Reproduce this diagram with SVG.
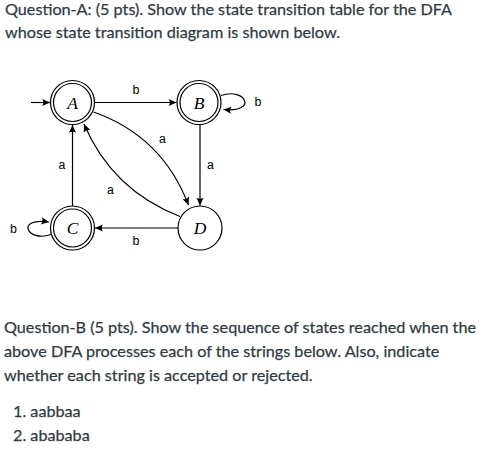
<svg xmlns="http://www.w3.org/2000/svg" width="483" height="470" viewBox="0 0 483 470">
<style>
.t{font-family:Lato,"Noto Sans",sans-serif;font-size:16.2px;fill:#2d3b45;stroke:#2d3b45;stroke-width:0.25}
.n{fill:none;stroke:#000;stroke-width:1.2}
.nl{font-family:"Liberation Serif","DejaVu Serif",serif;font-style:italic;font-size:17.5px;fill:#000;text-anchor:middle}
.e{fill:none;stroke:#000;stroke-width:1.2;marker-end:url(#ah)}
.el{font-family:"Liberation Mono","DejaVu Sans Mono",monospace;font-size:12.5px;fill:#000;text-anchor:middle}
</style>
<defs>
<marker id="ah" markerUnits="userSpaceOnUse" markerWidth="10" markerHeight="10" viewBox="-8 -4 9 8" refX="0" refY="0" orient="auto">
<path d="M0,0 L-7,-3.2 Q-5,0 -7,3.2 Z" fill="#000"/>
</marker>
</defs>
<rect width="483" height="470" fill="#fff"/>
<g id="questionA">
<text class="t" x="5" y="15">Question-A: (5 pts). Show the state transition table for the DFA</text>
<text class="t" x="5" y="38">whose state transition diagram is shown below.</text>
</g>
<g id="connectors">
<path class="e" d="M31,102.5 L50,102.5"/>
<path class="e" d="M94.5,102.5 L176.5,102.5"/>
<path class="e" d="M221,95.5 C246,87 258,113 223.5,109.5"/>
<path class="e" d="M200,124.5 L200,205.5"/>
<path class="e" d="M93.5,112 Q162,136 188.5,205"/>
<path class="e" d="M180,216.5 Q112,190 84,124"/>
<path class="e" d="M72.5,206 L72.5,125"/>
<path class="e" d="M178,228 L95,228"/>
<path class="e" d="M51,234.5 C27,243 15,217 49,222"/>
<text class="el" x="136" y="94">b</text>
<text class="el" x="258" y="106">b</text>
<text class="el" x="210.5" y="169">a</text>
<text class="el" x="162.5" y="142.5">a</text>
<text class="el" x="110.5" y="193.5">a</text>
<text class="el" x="62" y="169">a</text>
<text class="el" x="136" y="245">b</text>
<text class="el" x="13.5" y="233">b</text>
</g>
<g id="nodeA">
<circle class="n" cx="72.5" cy="102.5" r="22"/>
<circle class="n" cx="72.5" cy="102.5" r="19"/>
<text class="nl" x="72.5" y="108.5">A</text>
</g>
<g id="nodeB">
<circle class="n" cx="199" cy="102.5" r="22"/>
<circle class="n" cx="199" cy="102.5" r="19"/>
<text class="nl" x="199" y="108.5">B</text>
</g>
<g id="nodeC">
<circle class="n" cx="72.5" cy="228" r="22"/>
<circle class="n" cx="72.5" cy="228" r="19"/>
<text class="nl" x="72.5" y="234">C</text>
</g>
<g id="nodeD">
<circle class="n" cx="200" cy="228" r="22"/>
<text class="nl" x="200" y="234">D</text>
</g>
<g id="questionB">
<text class="t" x="4" y="333">Question-B (5 pts). Show the sequence of states reached when the</text>
<text class="t" x="4" y="357">above DFA processes each of the strings below. Also, indicate</text>
<text class="t" x="4" y="381">whether each string is accepted or rejected.</text>
<text class="t" x="13" y="417">1. aabbaa</text>
<text class="t" x="13" y="441">2. abababa</text>
</g>
</svg>
